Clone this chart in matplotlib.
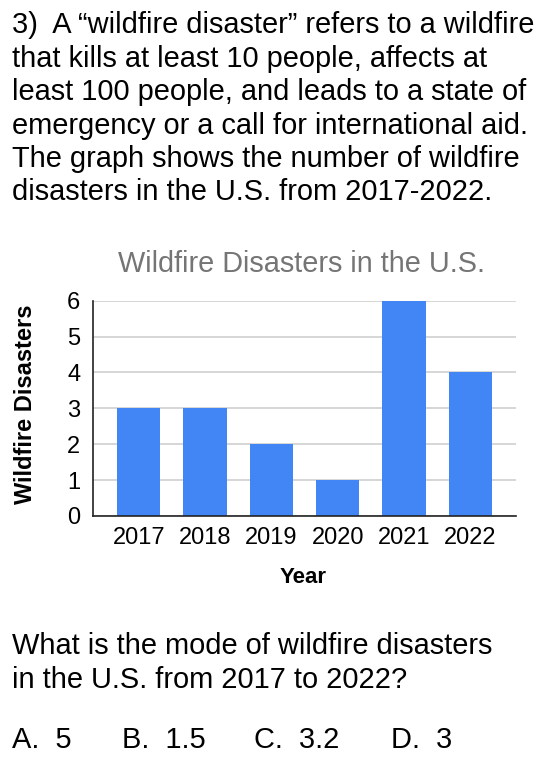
import numpy as np
import matplotlib
matplotlib.use('Agg')
import matplotlib.pyplot as plt

plt.rc('font', family=['Liberation Sans', 'DejaVu Sans'])

# chart data
years = ['2017', '2018', '2019', '2020', '2021', '2022']
disasters = [3, 3, 2, 1, 6, 4]
yticks = [0, 1, 2, 3, 4, 5, 6]

# text of the worksheet
intro_lines = ['3)  A \u201cwildfire disaster\u201d refers to a wildfire',
               'that kills at least 10 people, affects at',
               'least 100 people, and leads to a state of',
               'emergency or a call for international aid.',
               'The graph shows the number of wildfire',
               'disasters in the U.S. from 2017-2022.']
question_lines = ['What is the mode of wildfire disasters',
                  'in the U.S. from 2017 to 2022?']
answers = ['A.  5', 'B.  1.5', 'C.  3.2', 'D.  3']

W, H = 549, 773
def fx(px): return px / W
def fy(py): return 1 - py / H

fig = plt.figure(figsize=(W/100, H/100), dpi=100)
fig.patch.set_facecolor('white')

txt_size = 20.9
for i, line in enumerate(intro_lines):
    fig.text(fx(12), fy(33.3 + 33.4*i), line, fontsize=txt_size, color='black',
             ha='left', va='baseline')
for i, line in enumerate(question_lines):
    fig.text(fx(12), fy(654.3 + 33.4*i), line, fontsize=txt_size, color='black',
             ha='left', va='baseline')
ans_x = [12, 121.5, 254, 391]
for a, x in zip(answers, ans_x):
    fig.text(fx(x), fy(748.5), a, fontsize=txt_size, color='black', ha='left', va='baseline')

# chart
ax = fig.add_axes([fx(93), fy(516), fx(516) - fx(93), fy(300.7) - fy(516)])
x = np.arange(len(years))
ax.bar(x, disasters, width=0.656, color='#4285F4', zorder=3)
ax.set_xlim(-0.69, 5.69)
ax.set_ylim(0, 6)
ax.set_xticks(x)
ax.set_xticklabels(years)
ax.set_yticks(yticks)
ax.yaxis.grid(True, color='#cccccc', linewidth=1.1, zorder=0)
ax.set_axisbelow(True)
for s in ['top', 'right']:
    ax.spines[s].set_visible(False)
for s in ['left', 'bottom']:
    ax.spines[s].set_color('#222222')
    ax.spines[s].set_linewidth(1.2)
    ax.spines[s].set_zorder(4)
ax.tick_params(axis='x', length=0, pad=8, labelsize=17)
ax.tick_params(axis='y', length=0, pad=9, labelsize=17)

fig.text(fx(302), fy(272), 'Wildfire Disasters in the U.S.', fontsize=20.8,
         color='#757575', ha='center', va='baseline')
fig.text(fx(303.5), fy(583), 'Year', fontsize=16, fontweight='bold',
         ha='center', va='baseline')
fig.text(fx(26), fy(404), 'Wildfire Disasters', fontsize=17, fontweight='bold',
         rotation=90, ha='center', va='center')

fig.savefig('out.png', dpi=100)
